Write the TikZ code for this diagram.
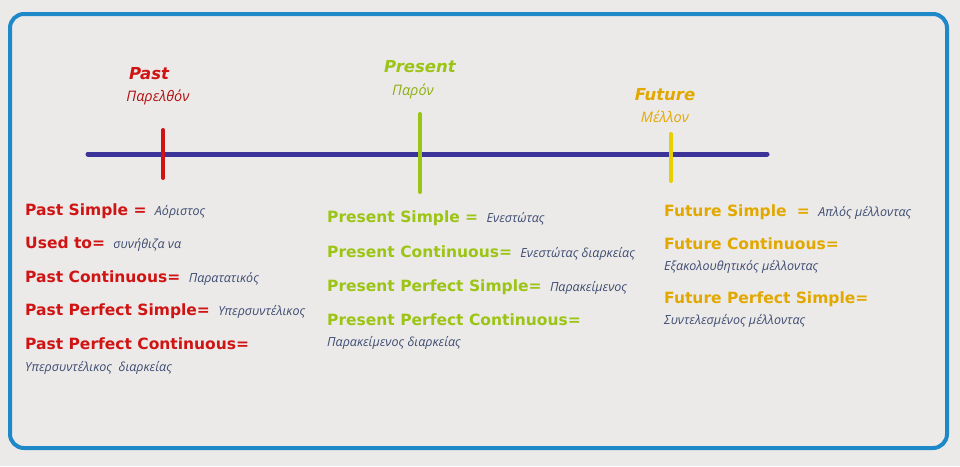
\documentclass[tikz,border=0pt]{standalone}
\usepackage{fontspec}
\setmainfont{DejaVu Sans}
\newfontfamily\enfont{DejaVu Sans}[BoldFont={DejaVu Sans Bold}]
\newfontfamily\grfont{Open Sans}
\definecolor{bgc}{HTML}{ECEAE8}
\definecolor{frame}{HTML}{1E88C8}
\definecolor{tline}{HTML}{3B3398}
\definecolor{pastc}{HTML}{D01414}
\definecolor{presc}{HTML}{9CC414}
\definecolor{futc}{HTML}{E2A800}
\definecolor{futtick}{HTML}{E6D000}
\definecolor{grc}{HTML}{3D4C72}
\tikzset{
  en/.style={anchor=base west, inner sep=0pt, font=\enfont\bfseries\fontsize{15.5}{18}\selectfont},
  gr/.style={anchor=base west, inner sep=0pt, font=\grfont\itshape\fontsize{12.5}{15}\selectfont, text=grc},
  grr/.style={gr, xshift=8pt},
  head/.style={anchor=base, inner sep=0pt, font=\enfont\bfseries\itshape\fontsize{16.5}{19}\selectfont},
  headgr/.style={anchor=base, inner sep=0pt, font=\grfont\itshape\fontsize{14.5}{17}\selectfont},
  tick/.style={line width=4pt, line cap=round}
}
\begin{document}
\begin{tikzpicture}[x=1pt,y=-1pt]
\fill[bgc] (0,0) rectangle (960,466);
\useasboundingbox (0,0) rectangle (960,466);
\draw[frame, line width=4pt, rounded corners=14pt] (10,14) rectangle (947,448);
% timeline
\coordinate (tl0) at (88,154);
\coordinate (tl1) at (767,154);
\draw[tline, line width=5pt, line cap=round] (tl0) -- (tl1);
\coordinate (pa0) at (163,130); \coordinate (pa1) at (163,178);
\coordinate (pr0) at (420,114); \coordinate (pr1) at (420,192);
\coordinate (fu0) at (671,134); \coordinate (fu1) at (671,181);
\draw[tick, pastc] (pa0) -- (pa1);
\draw[tick, presc] (pr0) -- (pr1);
\draw[tick, futtick] (fu0) -- (fu1);
% headings
\node[head, text=pastc] (hpast) at (149,79) {Past};
\node[headgr, text=pastc!85!black] (gpast) at (158,101) {Παρελθόν};
\node[head, text=presc] (hpres) at (420,72) {Present};
\node[headgr, text=presc!90!black] (gpres) at (413,95) {Παρόν};
\node[head, text=futc] (hfut) at (665,100) {Future};
\node[headgr, text=futc] (gfut) at (665,122) {Μέλλον};
% past column
\node[en, text=pastc] (p1) at (25,215) {Past Simple =};
\node[grr] (p1g) at (p1.base east) {Αόριστος};
\node[en, text=pastc] (p2) at (25,248) {Used to=};
\node[grr] (p2g) at (p2.base east) {συνήθιζα να};
\node[en, text=pastc] (p3) at (25,282) {Past Continuous=};
\node[grr] (p3g) at (p3.base east) {Παρατατικός};
\node[en, text=pastc] (p4) at (25,315) {Past Perfect Simple=};
\node[grr] (p4g) at (p4.base east) {Υπερσυντέλικος};
\node[en, text=pastc] (p5) at (25,349) {Past Perfect Continuous=};
\node[gr] (p5g) at (25,371) {Υπερσυντέλικος\ \ διαρκείας};
% present column
\node[en, text=presc] (r1) at (327,222) {Present Simple =};
\node[grr] (r1g) at (r1.base east) {Ενεστώτας};
\node[en, text=presc] (r2) at (327,257) {Present Continuous=};
\node[grr] (r2g) at (r2.base east) {Ενεστώτας διαρκείας};
\node[en, text=presc] (r3) at (327,291) {Present Perfect Simple=};
\node[grr] (r3g) at (r3.base east) {Παρακείμενος};
\node[en, text=presc] (r4) at (327,325) {Present Perfect Continuous=};
\node[gr] (r4g) at (327,346) {Παρακείμενος διαρκείας};
% future column
\node[en, text=futc] (f1) at (664,216) {Future Simple\hspace{5pt} =};
\node[grr] (f1g) at (f1.base east) {Απλός μέλλοντας};
\node[en, text=futc] (f2) at (664,249) {Future Continuous=};
\node[gr] (f2g) at (664,270) {Εξακολουθητικός μέλλοντας};
\node[en, text=futc] (f3) at (664,303) {Future Perfect Simple=};
\node[gr] (f3g) at (664,324) {Συντελεσμένος μέλλοντας};
\end{tikzpicture}
\end{document}
